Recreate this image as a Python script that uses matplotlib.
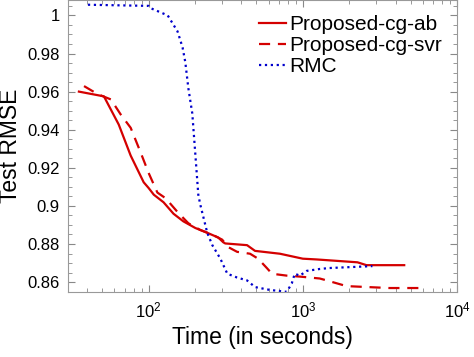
import matplotlib
matplotlib.use("Agg")
import matplotlib.pyplot as plt
from matplotlib.ticker import MultipleLocator, FuncFormatter, LogLocator

plt.rcParams['font.family'] = ['Liberation Sans', 'DejaVu Sans']
plt.rcParams['mathtext.default'] = 'regular'

# valores
t_ab = [35.3, 51.3, 64, 76.5, 92.9, 100, 108, 125, 145, 168, 201, 240, 283, 305, 314,
        435, 490, 711, 1000, 1230, 2263, 2590, 4550]
rmse_ab = [0.960, 0.9575, 0.9427, 0.9264, 0.9124, 0.9094, 0.9059, 0.9019, 0.8959, 0.8919,
           0.8884, 0.8859, 0.8834, 0.8809, 0.8803, 0.8794, 0.8764, 0.8749, 0.8723, 0.8719,
           0.8704, 0.8689, 0.8689]

t_svr = [38.1, 46.9, 56.9, 65.9, 76.5, 88.8, 100, 114, 129, 154, 181, 216, 259, 300, 328,
         375, 455, 513, 586, 631, 788, 957, 1288, 1428, 1923, 3640, 5690]
rmse_svr = [0.9629, 0.9586, 0.9559, 0.948, 0.941, 0.928, 0.9173, 0.907, 0.904, 0.8968,
            0.8909, 0.8874, 0.8849, 0.8823, 0.8784, 0.8759, 0.8749, 0.8723, 0.8673, 0.8644,
            0.8634, 0.8629, 0.8619, 0.8609, 0.8579, 0.8569, 0.8569]

t_rmc = [40.4, 100, 103, 133, 154, 166, 173, 181, 192, 201, 210, 216, 240, 259, 292, 324,
         375, 435, 490, 612, 788, 849, 887, 957, 1061, 1288, 1493, 2830]
rmse_rmc = [1.0056, 1.005, 1.0038, 1.000, 0.9916, 0.9832, 0.9754, 0.9618, 0.9485, 0.9269,
            0.9059, 0.9009, 0.8859, 0.8794, 0.8723, 0.8644, 0.8624, 0.8609, 0.8574, 0.8559,
            0.8549, 0.8594, 0.8644, 0.8634, 0.8659, 0.8669, 0.8674, 0.8684]

fig = plt.figure(figsize=(4.74, 3.57), dpi=100)
ax = fig.add_axes([0.1435, 0.182, 0.8205, 0.817])

ax.plot(t_ab, rmse_ab, '-', color='#d40000', lw=1.6, label='Proposed-cg-ab')
ax.plot(t_svr, rmse_svr, '--', color='#d40000', lw=1.6, dashes=(5, 3.5), label='Proposed-cg-svr')
ax.plot(t_rmc, rmse_rmc, ':', color='#0000cc', lw=1.6, label='RMC')

ax.set_xscale('log')
ax.set_xlim(30, 1e4)
ax.set_ylim(0.8548, 1.0079)
ax.yaxis.set_major_locator(MultipleLocator(0.02))
ax.yaxis.set_minor_locator(MultipleLocator(0.005))
ax.yaxis.set_major_formatter(FuncFormatter(lambda v, p: '%g' % round(v, 3)))
ax.xaxis.set_major_locator(LogLocator(base=10, numticks=10))
ax.xaxis.set_minor_locator(LogLocator(base=10, subs=range(2, 10), numticks=20))

ax.tick_params(which='both', direction='in', top=True, right=True, color='#888888')
ax.tick_params(which='major', length=5, labelsize=12, pad=6)
ax.tick_params(which='minor', length=3)
for s in ax.spines.values():
    s.set_color('#999999')

ax.set_xlabel('Time (in seconds)', fontsize=16.5, labelpad=4)
ax.set_ylabel('Test RMSE', fontsize=16.5, labelpad=4)

ax.legend(loc='upper right', frameon=False, fontsize=15, handlelength=1.3,
          handletextpad=0.15, labelspacing=0.1, borderaxespad=0.3)

fig.savefig('out.png', dpi=100)
